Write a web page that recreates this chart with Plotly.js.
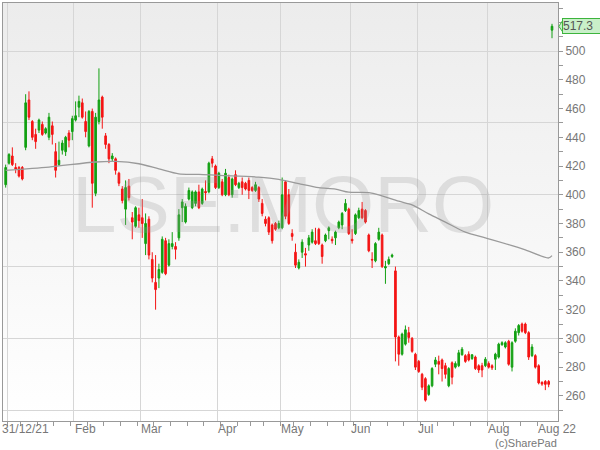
<!DOCTYPE html>
<html>
<head>
<meta charset="utf-8">
<script src="https://cdn.plot.ly/plotly-3.0.1.min.js"></script>
<style>html,body{margin:0;padding:0;background:#fff;}#chart{width:600px;height:450px;}</style>
</head>
<body>
<div id="chart"></div>
<script>
const dates = [
'2021-12-31',
'2022-01-04','2022-01-05','2022-01-06','2022-01-07','2022-01-10','2022-01-11','2022-01-12','2022-01-13','2022-01-14','2022-01-17','2022-01-18','2022-01-19','2022-01-20','2022-01-21','2022-01-24','2022-01-25','2022-01-26','2022-01-27','2022-01-28','2022-01-31',
'2022-02-01','2022-02-02','2022-02-03','2022-02-04','2022-02-07','2022-02-08','2022-02-09','2022-02-10','2022-02-11','2022-02-14','2022-02-15','2022-02-16','2022-02-17','2022-02-18','2022-02-21','2022-02-22','2022-02-23','2022-02-24','2022-02-25','2022-02-28',
'2022-03-01','2022-03-02','2022-03-03','2022-03-04','2022-03-07','2022-03-08','2022-03-09','2022-03-10','2022-03-11','2022-03-14','2022-03-15','2022-03-16','2022-03-17','2022-03-18','2022-03-21','2022-03-22','2022-03-23','2022-03-24','2022-03-25','2022-03-28','2022-03-29','2022-03-30','2022-03-31',
'2022-04-01','2022-04-04','2022-04-05','2022-04-06','2022-04-07','2022-04-08','2022-04-11','2022-04-12','2022-04-13','2022-04-14','2022-04-19','2022-04-20','2022-04-21','2022-04-22','2022-04-25','2022-04-26','2022-04-27','2022-04-28','2022-04-29',
'2022-05-03','2022-05-04','2022-05-05','2022-05-06','2022-05-09','2022-05-10','2022-05-11','2022-05-12','2022-05-13','2022-05-16','2022-05-17','2022-05-18','2022-05-19','2022-05-20','2022-05-23','2022-05-24','2022-05-25','2022-05-26','2022-05-27','2022-05-30','2022-05-31',
'2022-06-01','2022-06-06','2022-06-07','2022-06-08','2022-06-09','2022-06-10','2022-06-13','2022-06-14','2022-06-15','2022-06-16','2022-06-17','2022-06-20','2022-06-21','2022-06-22','2022-06-23','2022-06-24','2022-06-27','2022-06-28','2022-06-29','2022-06-30',
'2022-07-01','2022-07-04','2022-07-05','2022-07-06','2022-07-07','2022-07-08','2022-07-11','2022-07-12','2022-07-13','2022-07-14','2022-07-15','2022-07-18','2022-07-19','2022-07-20','2022-07-21','2022-07-22','2022-07-25','2022-07-26','2022-07-27','2022-07-28','2022-07-29',
'2022-08-01','2022-08-02','2022-08-03','2022-08-04','2022-08-05','2022-08-08','2022-08-09','2022-08-10','2022-08-11','2022-08-12','2022-08-15','2022-08-16','2022-08-17','2022-08-18','2022-08-19','2022-08-22','2022-08-23','2022-08-24','2022-08-25','2022-08-26'
];

const openPrices = [
407,422,427,419,419,419,433,466,451,442,
445,449,443,440,448,430,421,431,430,443,
444,452,461,464,451,434,458,401,451,468,
441,435,425,425,415,404,390,406,384,378,
386,384,366,383,355,339,342,346,368,351,
364,364,370,391,381,397,391,394,402,394,
402.3,402,425,420,405,409,400,412,400,414,
405,409,408,410,405,403,405,394,383,384,
379,380,377,377,409,400,373,360,349,360,
359,365,367,368,376,365,368,375,369,370,
377,379,389,390,369,373,384,390,389,372,
355,354,369,372,349,352,357,347,301,289,
296,304,300,289,284,275,272,261,267,282,
284,285,281,267,283,280,281,288.6,288,289,
286,287,281,281,281,282.5,281,285.5,287,295.5,
294,298,280,298,304,310,310,304,288,288,
281,269.5,270,270,514.6];

const highPrices = [
421,429,433,422,420,420,470,472,452,446,
453,451,447,457,451,436,437,438,441,445,
455,465,469,467,458,459,460,457,488,469,
443,436,429,426,416,406,410,411,388,392,
391,397,387,385,360,358,352,371,370,369,
374,367,390,397,394,405,403,403,407,405,
410,423,427,421,416,411,418,414,412,417,
409,412,409,412,406,409,406,397,385,385,
380,381,382,412,410,404,376,366,355,369,
363,372,376,377,377,366,373,378,371,375,
382,388,397,391,376,387,391,395,390,373,
360,367,377,373,354,357,359,350,302,304,
309,308,301,290,285,276,273,268,280,287,
288,286,283,280,284,284,292,294,289,291,
289,288,282,283,287,284,282,290,297,298,
298,299,298,307,310,311,311,305,296,289,
282,270,271,271,519];

const lowPrices = [
405,421,420,415,412,410,431,452,438,432,
443,441,442,438,435,412,420,428,427,433,
438,451,454,453,440,433,391,399,449,446,
432,422,423,414,406,394,379,396,369,377,
377,370,358,355,339,320,335,345,344,350,
362,355,368,381,380,396,390,392,390,393,
396,401,419,404,404,399,399,399,398,406,
404,400,403,397,402,402,395,385,378,372,
366,375,376,376,383,379,368,349,348,356,
350,361,366,365,365,352,367,369,366,365,
376,376,388,372,366,372,383,383,380,360,
349,353,368,349,338,351,356,284,281,288,
295,297,290,278,276,264,256,260,266,280,
275,270,272,266,268,279,280,288,283,284,
285,278,276,273,280,279,278,278,286,295,
293,281,277,297,302,304,303,285,287,279,
268,267,264,266,509];

const closePrices = [
419,428,421,418,413,411,464,454,440,437,
452,442,446,454,442,417,424,436,440,438,
453,455,465,454,444,458,408,454,466,454,
435,425,427,417,408,396,405,398,381,391,
382,380,380,358,342,334,348,369,345,366,
366,362,386,395,392,403,402,402,391,404,
401.4,422,422,405,415,400,415,400,411,407,
408,405,404,403,403,407,397,387,380,374,
368,376,380,400,385,380,371,351,353,367,
358,370,374,366,366,357,372,377,368,374,
381,387,394,373,368,386,389,384,381,361,
354.6,366,374,350,350,355,358,301,289,303,
306,300.6,291,280,277,266,257,267,279,285,
282,279,275,279,273,282.5,290,292.5,284,285,
288.6,279,278,278,285.5,280,279.5,289,296,297,
297,282,297,305,309,305,304,287,294,280,
269,268.2,268,268,517.3];

const maDates = ['2021-12-31','2022-01-20','2022-02-09','2022-02-17','2022-02-28','2022-03-08','2022-03-16','2022-03-24','2022-04-01','2022-04-21','2022-04-29','2022-05-10','2022-05-18','2022-05-25','2022-05-31','2022-06-10','2022-06-15','2022-06-23','2022-06-29','2022-07-06','2022-07-13','2022-07-21','2022-07-29','2022-08-10','2022-08-16','2022-08-25','2022-08-26'];
const maValues = [417,419.3,422.8,423.2,421.6,418,414.5,414.2,413.5,412.3,410.7,407.7,404.9,404,401.8,401.5,400,395.5,393,386.7,381,374,370,364.6,361.6,356,357.6];

const tickLabelDates = ['2021-12-31','2022-02-01','2022-03-01','2022-04-01','2022-05-03','2022-06-01','2022-07-01','2022-08-01','2022-08-22'];
const tickLabels = ['31/12/21','Feb','Mar','Apr','May','Jun','Jul','Aug','Aug 22'];
const yTickValues = [260,280,300,320,340,360,380,400,420,440,460,480,500,520];

const lastPriceLabel = '517.3';
const lastPrice = 517.3;
const watermark = 'LSE:MORO';
const copyright = '(c)SharePad';

// derived tick positions (boundaries between trading days)
const monthBounds = [], weekBounds = [];
for (let i = 1; i < dates.length; i++) {
  const a = new Date(dates[i-1] + 'T00:00:00Z'), b = new Date(dates[i] + 'T00:00:00Z');
  if (a.getUTCMonth() !== b.getUTCMonth()) monthBounds.push(i - 0.5);
  if (b.getUTCDay() <= a.getUTCDay()) weekBounds.push(i - 0.5);
}

const xRange = [-0.8, dates.length + 0.8];
const yRange = [242.5, 533.5];
const FONT = 'Liberation Sans, Arial, sans-serif';

const candles = {
  type: 'candlestick', x: dates, open: openPrices, high: highPrices, low: lowPrices, close: closePrices,
  xaxis: 'x', yaxis: 'y',
  increasing: {line: {color: '#12a012', width: 1}, fillcolor: '#12a012'},
  decreasing: {line: {color: '#f41414', width: 1}, fillcolor: '#f41414'},
  whiskerwidth: 0, hoverinfo: 'skip', showlegend: false
};
const ma = {
  type: 'scatter', mode: 'lines', x: maDates, y: maValues, xaxis: 'x2', yaxis: 'y2',
  line: {color: '#9a9a9a', width: 1.3, shape: 'spline', smoothing: 0.8}, hoverinfo: 'skip', showlegend: false
};

const gradSvg = "<svg xmlns='http://www.w3.org/2000/svg' width='10' height='100' preserveAspectRatio='none'><defs><linearGradient id='g' x1='0' y1='0' x2='0' y2='1'><stop offset='0' stop-color='#ececec'/><stop offset='1' stop-color='#ffffff'/></linearGradient></defs><rect width='10' height='100' fill='url(#g)'/></svg>";

const annotations = [
  {xref: 'paper', yref: 'paper', x: 0.5, y: 0.5, xshift: 2, yshift: 8, text: watermark, showarrow: false,
   font: {family: FONT, size: 80, color: 'rgba(150,150,150,0.25)'}},
  {xref: 'paper', yref: 'paper', x: 1, y: 0, xanchor: 'right', yanchor: 'top', yshift: -15, borderpad: 0, text: copyright, showarrow: false,
   font: {family: FONT, size: 11, color: '#777'}},
  {xref: 'paper', yref: 'y', x: 1, y: lastPrice, xanchor: 'left', yanchor: 'middle', xshift: 4, width: 37, align: 'left',
   text: lastPriceLabel, showarrow: false,
   bgcolor: '#c9efc9', bordercolor: '#3cb43c', borderwidth: 1, borderpad: 0,
   font: {family: FONT, size: 12, color: '#555'}}
];
tickLabelDates.forEach((d, k) => {
  annotations.push({xref: 'x', yref: 'paper', x: d, y: 0, xanchor: 'left', yanchor: 'top',
    xshift: k === 0 ? -5 : -2, yshift: 0, borderpad: 0, text: tickLabels[k], showarrow: false,
    font: {family: FONT, size: 12, color: '#777'}});
});

const layout = {
  width: 600, height: 450,
  margin: {l: 3, r: 42, t: 3, b: 29, pad: 0},
  paper_bgcolor: '#ffffff', plot_bgcolor: '#ffffff',
  font: {family: FONT, size: 12, color: '#777'},
  showlegend: false,
  boxgap: 0.3,
  images: [{source: 'data:image/svg+xml;charset=utf-8,' + encodeURIComponent(gradSvg),
    xref: 'paper', yref: 'paper', x: 0, y: 1, sizex: 1, sizey: 1, xanchor: 'left', yanchor: 'top',
    sizing: 'stretch', layer: 'below'}],
  shapes: [{type: 'path', xref: 'paper', yref: 'y', layer: 'above',
    path: 'M 1.0015,' + lastPrice + ' L 1.0092,' + (lastPrice + 4.4) + ' L 1.0092,' + (lastPrice - 4.4) + ' Z',
    fillcolor: '#c9efc9', line: {color: '#3cb43c', width: 1}}],
  xaxis: {type: 'category', categoryorder: 'array', categoryarray: dates, range: xRange,
    rangeslider: {visible: false}, tickmode: 'array', tickvals: monthBounds, showticklabels: false,
    ticks: '', showgrid: true, gridcolor: '#d6d6d6', gridwidth: 1, zeroline: false,
    showline: true, linecolor: '#999', linewidth: 1, mirror: true, fixedrange: true},
  xaxis2: {type: 'category', categoryorder: 'array', categoryarray: dates, range: xRange,
    overlaying: 'x', anchor: 'y2', tickmode: 'array', tickvals: weekBounds, showticklabels: false,
    ticks: 'outside', ticklen: 4, tickcolor: '#999', showgrid: false, zeroline: false, showline: false, fixedrange: true},
  yaxis: {range: yRange, side: 'right', tickmode: 'linear', tick0: 0, dtick: 50, showticklabels: false, ticks: '',
    showgrid: true, gridcolor: '#d6d6d6', gridwidth: 1, zeroline: false,
    showline: true, linecolor: '#999', linewidth: 1, mirror: true, fixedrange: true},
  yaxis2: {range: yRange, overlaying: 'y', anchor: 'x', side: 'right', tickmode: 'linear', tick0: 0, dtick: 20,
    ticks: 'outside', ticklen: 4, tickcolor: '#999', showgrid: false, zeroline: false, showline: false,
    tickfont: {family: FONT, size: 12, color: '#777'},
    minor: {tickmode: 'linear', tick0: 0, dtick: 10, ticks: 'outside', ticklen: 4, tickcolor: '#999', showgrid: false},
    fixedrange: true},
  annotations: annotations
};

Plotly.newPlot('chart', [candles, ma], layout, {displayModeBar: false, staticPlot: true});
</script>
</body>
</html>
